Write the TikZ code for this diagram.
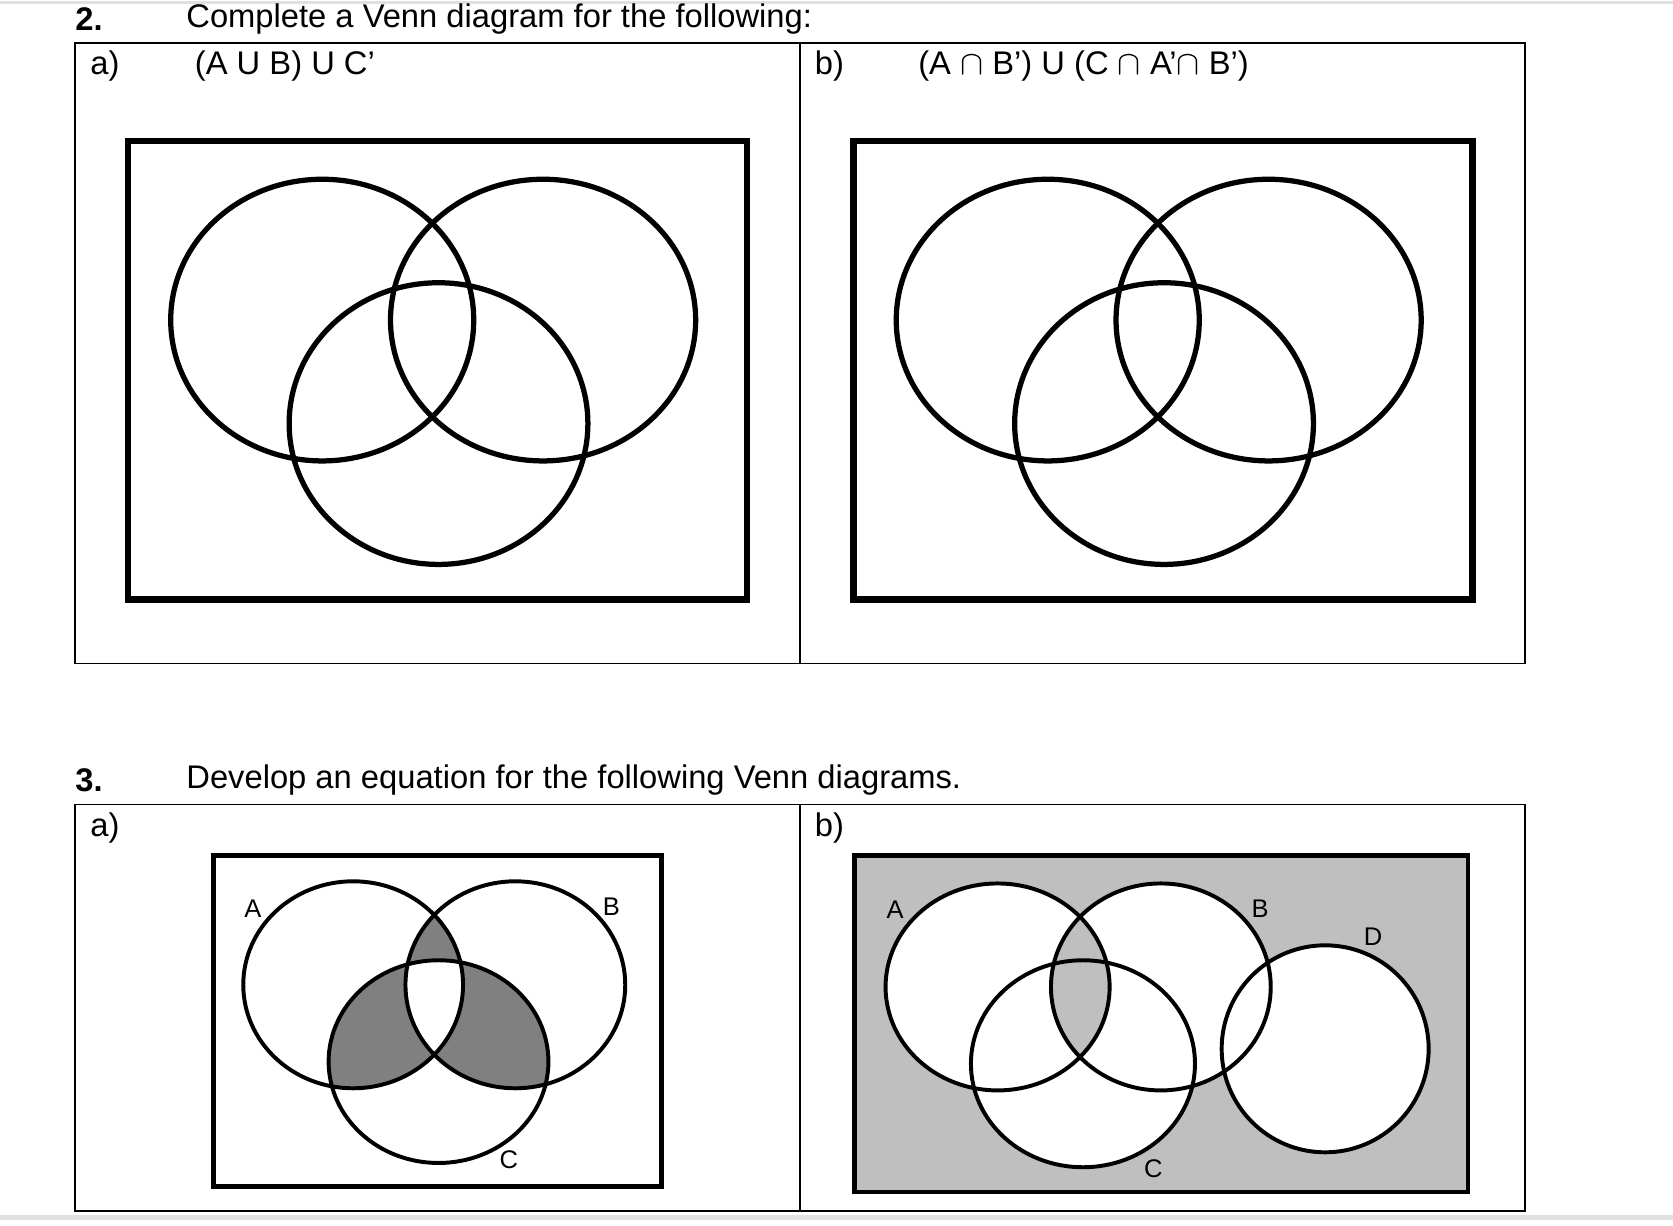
\documentclass[tikz,border=0pt]{standalone}
\usepackage{fontspec}
\setmainfont{Liberation Sans}
\begin{document}
\begin{tikzpicture}[x=0.01cm,y=-0.01cm,
  txt/.style={anchor=west,inner sep=0pt,font=\fontsize{8.72}{10}\selectfont},
  lbl/.style={inner sep=0pt,font=\fontsize{6.8}{8}\selectfont},
  thin box/.style={draw,line width=0.45pt},
  vc/.style={draw,line width=1.4pt},
  vs/.style={draw,line width=1.05pt}]
\useasboundingbox (0,0) rectangle (1568,1149);
\draw[black!12,line width=0.8pt] (0,2) -- (1568,2);
\draw[black!12,line width=1.5pt] (0,1141) -- (1568,1141);
% ---- Question 2
\node[txt,font=\bfseries\fontsize{8.72}{10}\selectfont] (q2) at (70,18) {2.};
\node[txt] (q2t) at (174,18) {Complete a Venn diagram for the following:};
\draw[thin box] (70,40) rectangle (1429,622);
\draw[thin box] (750,40) -- (750,622);
\node[txt] (a2) at (84,62) {a)};
\node[txt] at (182,62) {(A U B) U C'};
\node[txt] (b2) at (763,62) {b)};
\node[txt] at (860,62) {(A $\cap$ B') U (C $\cap$ A'$\cap$ B')};
\foreach \dx in {0,680}{
  \draw[line width=1.7pt] (120+\dx,132) rectangle (700+\dx,562);
  \draw[vc] (302+\dx,300) ellipse [x radius=142,y radius=132];
  \draw[vc] (509+\dx,300) ellipse [x radius=143,y radius=132];
  \draw[vc] (411+\dx,397) ellipse [x radius=140,y radius=132];
}
% ---- Question 3
\node[txt,font=\bfseries\fontsize{8.72}{10}\selectfont] (q3) at (70,731) {3.};
\node[txt] (q3t) at (174,731) {Develop an equation for the following Venn diagrams.};
\draw[thin box] (70,754) rectangle (1429,1135);
\draw[thin box] (750,754) -- (750,1135);
\node[txt] (a3) at (84,776) {a)};
\node[txt] (b3) at (763,776) {b)};
% 3a
\def\EA{(331,923) ellipse [x radius=103,y radius=97]}
\def\EB{(483,923) ellipse [x radius=103,y radius=97]}
\def\EC{(411,995) ellipse [x radius=103,y radius=95]}
\begin{scope}\clip \EA; \clip \EC; \fill[black!50] \EC; \end{scope}
\begin{scope}\clip \EB; \clip \EC; \fill[black!50] \EC; \end{scope}
\begin{scope}\clip \EA; \clip \EB; \fill[black!50] \EB; \end{scope}
\begin{scope}\clip \EA; \clip \EB; \fill[white] \EC; \end{scope}
\draw[line width=1.2pt] (200,802) rectangle (620,1112);
\draw[vs] \EA; \draw[vs] \EB; \draw[vs] \EC;
\node[lbl] (la) at (237,852) {A};
\node[lbl] (lb) at (573,850) {B};
\node[lbl] (lc) at (477,1087) {C};
% 3b
\def\FA{(935,925) ellipse [x radius=105,y radius=97]}
\def\FB{(1088,925) ellipse [x radius=103,y radius=97]}
\def\FC{(1015,997) ellipse [x radius=105,y radius=97]}
\def\FD{(1242,983) circle [radius=97]}
\fill[black!25] (801,802) rectangle (1376,1117);
\fill[white] \FA; \fill[white] \FB; \fill[white] \FC; \fill[white] \FD;
\begin{scope}\clip \FA; \fill[black!25] \FB; \end{scope}
\draw[line width=1.2pt] (801,802) rectangle (1376,1117);
\draw[vs] \FA; \draw[vs] \FB; \draw[vs] \FC; \draw[vs] \FD;
\node[lbl] (ma) at (839,853) {A};
\node[lbl] (mb) at (1181,852) {B};
\node[lbl] (mc) at (1081,1095) {C};
\node[lbl] (md) at (1287,878) {D};
\end{tikzpicture}
\end{document}
